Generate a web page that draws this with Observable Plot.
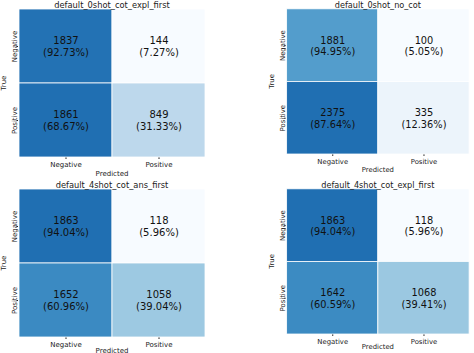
<!DOCTYPE html>
<html>
<head>
<meta charset="utf-8">
<script src="https://cdn.jsdelivr.net/npm/d3@7"></script>
<script src="https://cdn.jsdelivr.net/npm/@observablehq/plot@0.6"></script>
<style>
  html, body { margin: 0; padding: 0; background: #fff; }
  #wrap { position: relative; width: 474px; height: 353px; overflow: hidden; background: #fff; }
  .panel { position: absolute; }
  .panel svg { display: block; overflow: visible; }
</style>
</head>
<body>
<div id="wrap"></div>
<script>
const classes = ["Negative", "Positive"];
const titles = [
  "default_0shot_cot_expl_first",
  "default_0shot_no_cot",
  "default_4shot_cot_ans_first",
  "default_4shot_cot_expl_first"
];
// counts per panel: [true][predicted]
const trueNegPredNeg = [1837, 1881, 1863, 1863];
const trueNegPredPos = [144, 100, 118, 118];
const truePosPredNeg = [1861, 2375, 1652, 1642];
const truePosPredPos = [849, 335, 1058, 1068];

const positions = [[0, 0], [268, 0], [0, 180], [268, 180]];
const font = "DejaVu Sans, sans-serif";
const wrap = document.getElementById("wrap");

titles.forEach((title, i) => {
  const negTotal = trueNegPredNeg[i] + trueNegPredPos[i];
  const posTotal = truePosPredNeg[i] + truePosPredPos[i];
  const rows = [
    {t: "Negative", p: "Negative", n: trueNegPredNeg[i], tot: negTotal},
    {t: "Negative", p: "Positive", n: trueNegPredPos[i], tot: negTotal},
    {t: "Positive", p: "Negative", n: truePosPredNeg[i], tot: posTotal},
    {t: "Positive", p: "Positive", n: truePosPredPos[i], tot: posTotal}
  ].map(d => ({...d, label: `${d.n}\n(${(100 * d.n / d.tot).toFixed(2)}%)`}));
  const lo = d3.min(rows, d => d.n), hi = d3.max(rows, d => d.n);
  const topRow = i < 2;

  const chart = Plot.plot({
    width: 210,
    height: 180,
    marginLeft: 18,
    marginRight: 5,
    marginTop: 8,
    marginBottom: 23,
    style: {fontFamily: font, fontSize: "7px", color: "#222", background: "transparent"},
    x: {domain: classes, padding: 0, label: "Predicted", labelAnchor: "center", labelOffset: topRow ? 18 : 15, tickSize: 2, tickPadding: 3},
    y: {domain: classes, padding: 0, label: "True", labelAnchor: "center", labelOffset: 17, tickSize: 1.5, tickPadding: 0, tickRotate: -90},
    color: {type: "linear", domain: [lo, hi], interpolate: t => d3.interpolateBlues(0.76 * Math.pow(t, 1.15))},
    marks: [
      Plot.cell(rows, {x: "p", y: "t", fill: "n", stroke: "white", strokeWidth: 0.8}),
      Plot.text(rows, {x: "p", y: "t", text: "label", fill: "#111", fontSize: 10, lineHeight: 1.2, fontFamily: font}),
      Plot.text([title], {frameAnchor: "top", lineAnchor: "bottom", dy: -0.5, text: d => d, fontSize: 8.3, fill: "#222", fontFamily: font})
    ]
  });
  const div = document.createElement("div");
  div.className = "panel";
  div.style.left = positions[i][0] + "px";
  div.style.top = positions[i][1] + "px";
  div.appendChild(chart);
  wrap.appendChild(div);
});
</script>
</body>
</html>
